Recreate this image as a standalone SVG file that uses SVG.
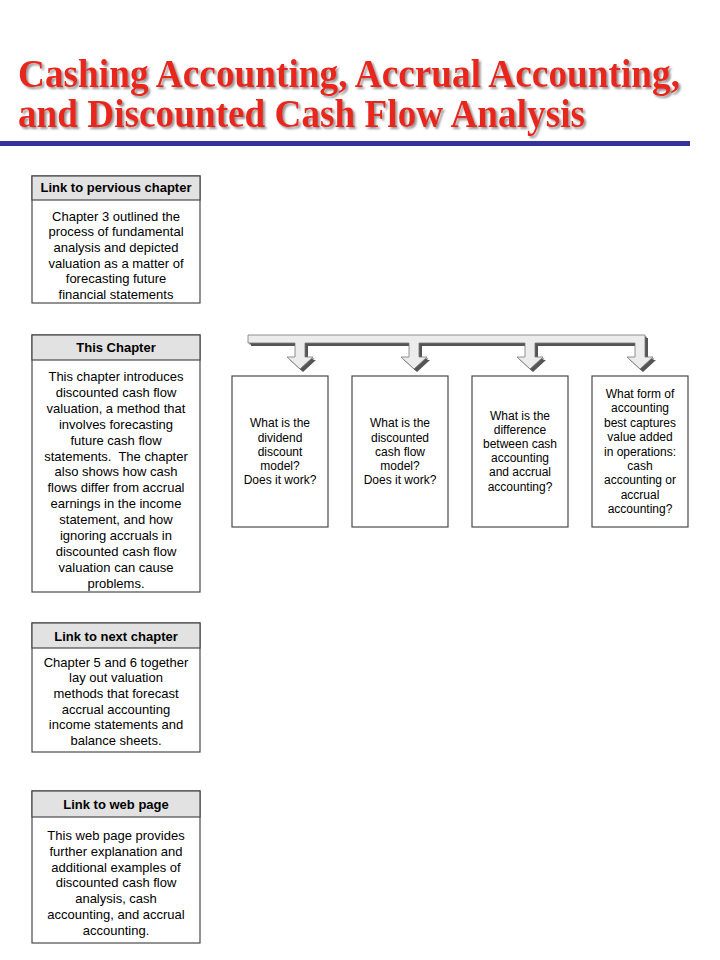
<svg xmlns="http://www.w3.org/2000/svg" width="720" height="960" viewBox="0 0 720 960">
<defs>
<style>
.title{font-family:"Liberation Serif","Times New Roman",serif;font-weight:bold;font-size:40px;fill:#e8281c}
.box{fill:#ffffff;stroke:#4a4a4a;stroke-width:1.2}
.hdr{fill:#e2e2e2;stroke:#4a4a4a;stroke-width:1.2}
.ht{font-family:"Liberation Sans",Arial,sans-serif;font-weight:bold;font-size:13px;fill:#000;text-anchor:middle}
.bt{font-family:"Liberation Sans",Arial,sans-serif;font-size:13px;fill:#000;text-anchor:middle}
.qt{font-family:"Liberation Sans",Arial,sans-serif;font-size:12px;fill:#000;text-anchor:middle}
.arrowShadow{fill:#555555}
.arrowFace{fill:#ececec;stroke:#7a7a7a;stroke-width:0.8}
</style>
<filter id="tshadow" filterUnits="userSpaceOnUse" x="0" y="40" width="720" height="100">
<feDropShadow dx="2" dy="2" stdDeviation="0.8" flood-color="#888888" flood-opacity="0.9"/>
</filter>
<path id="conn" d="M248,335 L645,335 L645,357 L653,357 L640,369 L627,357 L635,357 L635,343 L535,343 L535,357 L543,357 L530,369 L517,357 L525,357 L525,343 L419,343 L419,357 L427,357 L414,369 L401,357 L409,357 L409,343 L305,343 L305,357 L313,357 L300,369 L287,357 L295,357 L295,343 L248,343 Z"/>
</defs>
<rect width="720" height="960" fill="#ffffff"/>

<g id="title" filter="url(#tshadow)">
<text class="title" x="18" y="87" textLength="662" lengthAdjust="spacingAndGlyphs">Cashing Accounting, Accrual Accounting,</text>
<text class="title" x="18" y="127" textLength="567" lengthAdjust="spacingAndGlyphs">and Discounted Cash Flow Analysis</text>
</g>
<rect id="rule" x="0" y="141" width="690" height="5" fill="#333399"/>

<g id="prev-chapter">
<rect class="box" x="32" y="176" width="168" height="127"/>
<rect class="hdr" x="32" y="176" width="168" height="24"/>
<text class="ht" x="116" y="192">Link to pervious chapter</text>
<text class="bt" x="116" y="220.5">Chapter 3 outlined the</text>
<text class="bt" x="116" y="236.2">process of fundamental</text>
<text class="bt" x="116" y="251.9">analysis and depicted</text>
<text class="bt" x="116" y="267.6">valuation as a matter of</text>
<text class="bt" x="116" y="283.3">forecasting future</text>
<text class="bt" x="116" y="299">financial statements</text>
</g>

<g id="this-chapter">
<rect class="box" x="32" y="335" width="168" height="257"/>
<rect class="hdr" x="32" y="335" width="168" height="25"/>
<text class="ht" x="116" y="352">This Chapter</text>
<text class="bt" x="116" y="381">This chapter introduces</text>
<text class="bt" x="116" y="396.9">discounted cash flow</text>
<text class="bt" x="116" y="412.8">valuation, a method that</text>
<text class="bt" x="116" y="428.7">involves forecasting</text>
<text class="bt" x="116" y="444.6">future cash flow</text>
<text class="bt" x="116" y="460.5" xml:space="preserve">statements.  The chapter</text>
<text class="bt" x="116" y="476.4">also shows how cash</text>
<text class="bt" x="116" y="492.3">flows differ from accrual</text>
<text class="bt" x="116" y="508.2">earnings in the income</text>
<text class="bt" x="116" y="524.1">statement, and how</text>
<text class="bt" x="116" y="540">ignoring accruals in</text>
<text class="bt" x="116" y="555.9">discounted cash flow</text>
<text class="bt" x="116" y="571.8">valuation can cause</text>
<text class="bt" x="116" y="587.7">problems.</text>
</g>

<g id="next-chapter">
<rect class="box" x="32" y="623" width="168" height="129"/>
<rect class="hdr" x="32" y="623" width="168" height="25"/>
<text class="ht" x="116" y="641">Link to next chapter</text>
<text class="bt" x="116" y="666.5">Chapter 5 and 6 together</text>
<text class="bt" x="116" y="682.2">lay out valuation</text>
<text class="bt" x="116" y="697.9">methods that forecast</text>
<text class="bt" x="116" y="713.6">accrual accounting</text>
<text class="bt" x="116" y="729.3">income statements and</text>
<text class="bt" x="116" y="745">balance sheets.</text>
</g>

<g id="web-page">
<rect class="box" x="32" y="791" width="168" height="152"/>
<rect class="hdr" x="32" y="791" width="168" height="26"/>
<text class="ht" x="116" y="809">Link to web page</text>
<text class="bt" x="116" y="840">This web page provides</text>
<text class="bt" x="116" y="855.8">further explanation and</text>
<text class="bt" x="116" y="871.6">additional examples of</text>
<text class="bt" x="116" y="887.4">discounted cash flow</text>
<text class="bt" x="116" y="903.2">analysis, cash</text>
<text class="bt" x="116" y="919">accounting, and accrual</text>
<text class="bt" x="116" y="934.8">accounting.</text>
</g>

<g id="connectors">
<use href="#conn" class="arrowShadow" transform="translate(3,3)"/>
<use href="#conn" class="arrowShadow" transform="translate(1.5,1.5)"/>
<use href="#conn" class="arrowFace"/>
</g>

<g id="q1">
<rect class="box" x="232" y="376" width="96" height="151"/>
<text class="qt" x="280" y="427.3">What is the</text>
<text class="qt" x="280" y="441.5">dividend</text>
<text class="qt" x="280" y="455.7">discount</text>
<text class="qt" x="280" y="469.9">model?</text>
<text class="qt" x="280" y="484.1">Does it work?</text>
</g>

<g id="q2">
<rect class="box" x="352" y="376" width="96" height="151"/>
<text class="qt" x="400" y="427.3">What is the</text>
<text class="qt" x="400" y="441.5">discounted</text>
<text class="qt" x="400" y="455.7">cash flow</text>
<text class="qt" x="400" y="469.9">model?</text>
<text class="qt" x="400" y="484.1">Does it work?</text>
</g>

<g id="q3">
<rect class="box" x="472" y="376" width="96" height="151"/>
<text class="qt" x="520" y="419.5">What is the</text>
<text class="qt" x="520" y="433.7">difference</text>
<text class="qt" x="520" y="447.9">between cash</text>
<text class="qt" x="520" y="462.1">accounting</text>
<text class="qt" x="520" y="476.3">and accrual</text>
<text class="qt" x="520" y="490.5">accounting?</text>
</g>

<g id="q4">
<rect class="box" x="592" y="376" width="96" height="151"/>
<text class="qt" x="640" y="398">What form of</text>
<text class="qt" x="640" y="412.4">accounting</text>
<text class="qt" x="640" y="426.8">best captures</text>
<text class="qt" x="640" y="441.2">value added</text>
<text class="qt" x="640" y="455.6">in operations:</text>
<text class="qt" x="640" y="470">cash</text>
<text class="qt" x="640" y="484.4">accounting or</text>
<text class="qt" x="640" y="498.8">accrual</text>
<text class="qt" x="640" y="513.2">accounting?</text>
</g>
</svg>
